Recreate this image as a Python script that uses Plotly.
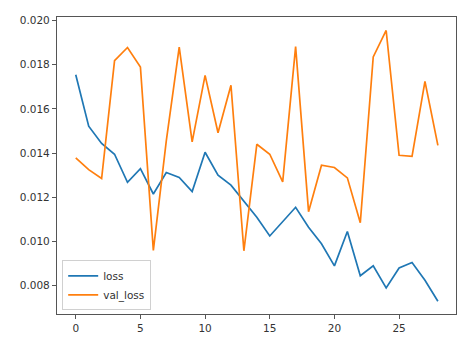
import plotly.graph_objects as go

# Training history per epoch
epochs = list(range(29))
loss = [0.01755, 0.01522, 0.01444, 0.01395, 0.01268, 0.01330, 0.01215, 0.01312,
        0.01290, 0.01226, 0.01404, 0.01300, 0.01255, 0.01185, 0.01110, 0.01025,
        0.01090, 0.01155, 0.01065, 0.00990, 0.00890, 0.01045, 0.00845, 0.00890,
        0.00790, 0.00880, 0.00905, 0.00825, 0.00730]
val_loss = [0.01378, 0.01325, 0.01285, 0.01818, 0.01878, 0.01790, 0.00960, 0.01455,
            0.01880, 0.01451, 0.01752, 0.01492, 0.01707, 0.00958, 0.01440, 0.01395,
            0.01270, 0.01882, 0.01135, 0.01345, 0.01335, 0.01288, 0.01085, 0.01835,
            0.01955, 0.01390, 0.01385, 0.01725, 0.01435]

y_ticks = [0.008, 0.010, 0.012, 0.014, 0.016, 0.018, 0.020]
x_ticks = [0, 5, 10, 15, 20, 25]

fig = go.Figure()
fig.add_trace(go.Scatter(x=epochs, y=loss, mode="lines", name="loss",
                         line=dict(color="#1f77b4", width=1.7)))
fig.add_trace(go.Scatter(x=epochs, y=val_loss, mode="lines", name="val_loss",
                         line=dict(color="#ff7f0e", width=1.7)))

axis_common = dict(
    showgrid=False, zeroline=False, showline=True, mirror=True,
    linecolor="#555555", linewidth=1.2, ticks="outside", ticklen=4,
    tickcolor="#555555", tickwidth=1,
    tickfont=dict(family="DejaVu Sans", size=10.5, color="#333333"),
)

fig.update_layout(
    width=474, height=345,
    margin=dict(l=57, r=18, t=17, b=31),
    paper_bgcolor="white", plot_bgcolor="white",
    xaxis=dict(range=[-1.45, 29.4], tickvals=x_ticks, **axis_common),
    yaxis=dict(range=[0.00672, 0.02016], tickvals=y_ticks, tickformat=".3f",
               **axis_common),
    legend=dict(x=0.013, y=0.012, xanchor="left", yanchor="bottom",
                bgcolor="rgba(255,255,255,0.8)", bordercolor="#d0d0d0",
                borderwidth=1, itemwidth=30,
                font=dict(family="DejaVu Sans", size=10.5, color="#333333"),
                tracegroupgap=0),
    showlegend=True,
)

fig.write_html("out.html")
